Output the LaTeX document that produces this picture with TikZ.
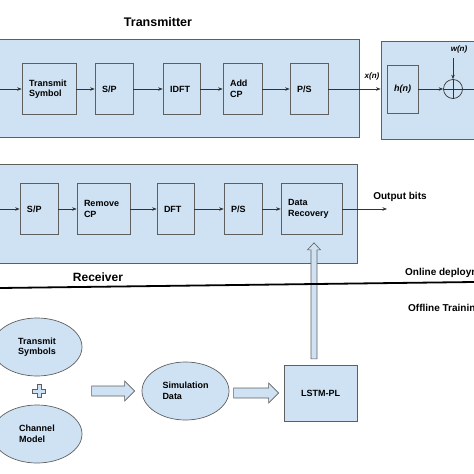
\documentclass[tikz,border=0pt]{standalone}
\usepackage{fontspec}
\setmainfont{Liberation Sans}
\usepackage{tikz}
\usetikzlibrary{positioning,shapes.geometric,arrows.meta,calc}
\definecolor{boxfill}{RGB}{207,226,243}
\definecolor{linecol}{RGB}{95,95,95}

\begin{document}
\begin{tikzpicture}[
    x=1pt, y=-1pt,
    panel/.style={rectangle, draw=linecol, fill=boxfill, line width=0.9pt, inner sep=0pt},
    box/.style={rectangle, draw=linecol, fill=boxfill, line width=0.7pt, minimum height=51pt, inner xsep=7pt, inner ysep=0pt, align=left, font=\bfseries\fontsize{9}{10.5}\selectfont},
    blob/.style={ellipse, draw=linecol, fill=boxfill, line width=0.7pt, minimum width=90pt, minimum height=58pt, inner sep=0pt, align=left, font=\bfseries\fontsize{9}{10.5}\selectfont},
    hollow/.style={draw=linecol, fill=boxfill, line width=0.6pt, line join=miter},
    arrow/.style={-{Stealth[length=4.5pt,width=3.5pt]}, draw=black!80, line width=0.6pt},
    lbl/.style={inner sep=0pt, font=\bfseries\fontsize{10}{12}\selectfont},
    sig/.style={inner sep=0pt, font=\bfseries\itshape\fontsize{8}{9}\selectfont}
]
\useasboundingbox (0,0) rectangle (474,474);
\clip (0,0) rectangle (474,474);

% Panels
\node[panel, minimum width=364pt, minimum height=98pt] (txpanel) at (177,88) {};
\node[panel, minimum width=362pt, minimum height=99pt] (rxpanel) at (176,213.5) {};
\node[panel, minimum width=109pt, minimum height=98pt] (chan) at (435.5,90) {};

% Transmitter
\node[box, text width=40pt] (tsym) at (49,89) {Transmit\\Symbol};
\node[box, text width=24pt] (sp1) at (114,89) {S/P};
\node[box, text width=23pt] (idft) at (181.5,89) {IDFT};
\node[box, text width=25pt] (addcp) at (242.5,89) {Add\\CP};
\node[box, text width=24pt] (ps1) at (309,89) {P/S};

% Channel
\node[box, minimum width=31pt, minimum height=48pt, inner xsep=0pt, align=center] (hn) at (402.5,89) {\itshape h(n)};
\node[circle, draw=black!80, line width=0.7pt, minimum size=19pt, inner sep=0pt] (sum) at (453,89) {};
\draw[line width=0.6pt, black!80] (sum.north) -- (sum.south);
\draw[line width=0.6pt, black!80] (sum.west) -- (sum.east);

% Receiver
\node[box, text width=24pt] (sp2) at (39,209) {S/P};
\node[box, text width=39pt] (rmcp) at (103.5,209) {Remove\\CP};
\node[box, text width=23pt] (dft) at (175.5,209) {DFT};
\node[box, text width=24pt] (ps2) at (243,209) {P/S};
\node[box, text width=47pt] (drec) at (311.5,209) {Data\\Recovery};

% Offline training
\node[blob] (tsyms) at (37,347) {Transmit\\Symbols};
\node[blob] (chmodel) at (37,434) {Channel\\Model};
\node[blob, minimum width=87pt] (sim) at (185.5,391) {Simulation\\Data};
\node[box, minimum width=73pt, minimum height=56pt, align=center] (lstm) at (320.5,393) {LSTM-PL};

% Arrows
\coordinate (txin) at (0,89);
\coordinate (rxin) at (0,209);
\coordinate (wtop) at (453,58);
\coordinate (chout) at (480,89);
\coordinate (outend) at (387,209);
\draw[arrow] (txin) -- (tsym);
\draw[arrow] (tsym) -- (sp1);
\draw[arrow] (sp1) -- (idft);
\draw[arrow] (idft) -- (addcp);
\draw[arrow] (addcp) -- (ps1);
\draw[arrow] (ps1.east) -- (ps1.east -| chan.west);
\draw[arrow] (hn) -- (sum);
\draw[arrow] (wtop) -- (sum);
\draw[line width=0.6pt, black!80] (sum) -- (chout);
\draw[arrow] (rxin) -- (sp2);
\draw[arrow] (sp2) -- (rmcp);
\draw[arrow] (rmcp) -- (dft);
\draw[arrow] (dft) -- (ps2);
\draw[arrow] (ps2) -- (drec);
\draw[arrow] (drec.east) -- (drec.east -| outend);

% Block arrows
\draw[hollow] ($(sim.west)+(-50,-5)$) -- ++(33,0) -- ++(0,-5) -- ++(10,10) -- ++(-10,10) -- ++(0,-5) -- ++(-33,0) -- cycle;
\draw[hollow] ($(lstm.west)+(-50,-5)$) -- ++(35,0) -- ++(0,-5) -- ++(10,10) -- ++(-10,10) -- ++(0,-5) -- ++(-35,0) -- cycle;
\draw[hollow] ($(drec.south)+(2.5,8)$) -- ++(6.5,7) -- ++(-3.5,0) -- ++(0,109) -- ++(-6,0) -- ++(0,-109) -- ++(-3.5,0) -- cycle;
\draw[hollow] (37,384.5) -- (41,384.5) -- (41,389) -- (45.5,389) -- (45.5,393) -- (41,393) -- (41,397.5) -- (37,397.5) -- (37,393) -- (32.5,393) -- (32.5,389) -- (37,389) -- cycle;

% Divider
\draw[line width=1.8pt] (0,288) -- (474,282);

% Labels
\node[inner sep=0pt, font=\bfseries\fontsize{12.5}{14}\selectfont] (txtitle) at (158,22) {Transmitter};
\node[inner sep=0pt, font=\bfseries\fontsize{12}{14}\selectfont] (rxtitle) at (98,277) {Receiver};
\node[lbl] (outlbl) at (400,197) {Output bits};
\node[lbl, anchor=west] (online) at (405,273) {Online deployment};
\node[lbl, anchor=west] (offline) at (408,309) {Offline Training};
\node[sig] (xn) at (372,76) {x(n)};
\node[sig] (wn) at (459,49) {w(n)};

\end{tikzpicture}
\end{document}
